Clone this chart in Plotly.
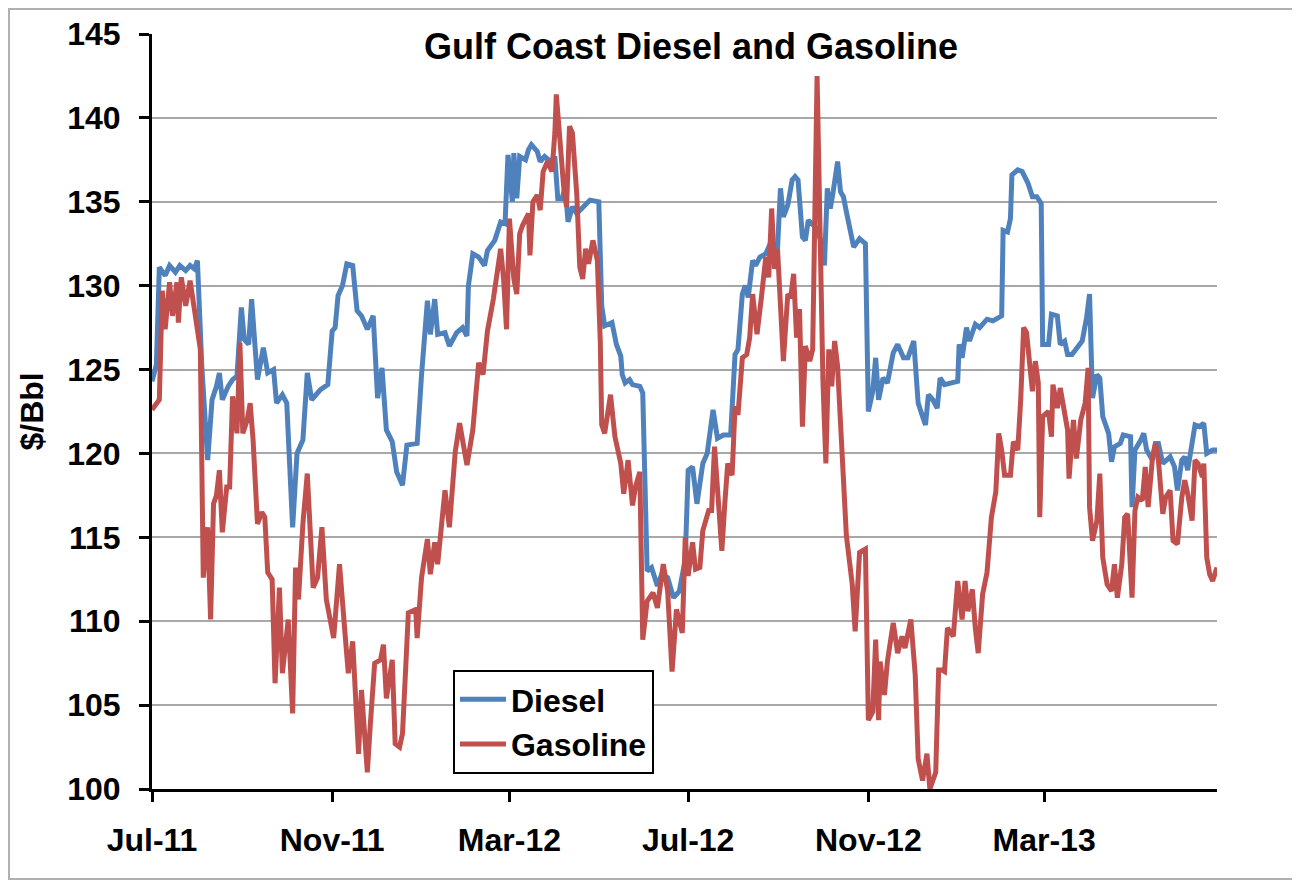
import pandas as pd
import plotly.graph_objects as go

start_date = "2011-07-01"

# Diesel: days since 2011-07-01, $/Bbl
diesel_days = [0, 3, 5, 9, 12, 16, 19, 23, 26, 29, 31, 34, 38, 41, 44, 46, 48, 52, 55, 58,
               61, 63, 66, 68, 72, 76, 79, 83, 85, 89, 92, 96, 99, 103, 106, 109, 115, 120, 123, 125,
               127, 130, 133, 137, 140, 143, 147, 151, 154, 157, 160, 164, 167, 171, 174, 181, 184, 188, 190, 193,
               195, 200, 203, 208, 212, 215, 216, 219, 223, 227, 229, 234, 238, 241, 243, 246, 247, 249, 251, 255,
               257, 259, 263, 265, 268, 272, 275, 277, 280, 282, 284, 287, 290, 294, 299, 305, 307, 309, 314, 317,
               320, 321, 323, 326, 328, 333, 335, 338, 341, 345, 348, 352, 356, 360, 364, 366, 369, 372, 376, 379,
               383, 386, 390, 395, 396, 398, 400, 403, 405, 407, 410, 412, 415, 419, 423, 427, 429, 431, 434, 437,
               439, 441, 444, 446, 448, 451, 454, 457, 459, 461, 463, 465, 468, 470, 472, 474, 477, 479, 483, 487,
               489, 492, 494, 496, 499, 502, 506, 509, 513, 516, 520, 523, 526, 528, 530, 533, 536, 538, 541, 545,
               550, 551, 553, 556, 558, 562, 565, 570, 574, 580, 581, 584, 586, 587, 591, 594, 598, 601, 604, 607,
               608, 612, 614, 618, 620, 623, 625, 628, 632, 635, 638, 640, 642, 645, 647, 649, 653, 655, 657, 661,
               663, 668, 669, 671, 675, 677, 679, 683, 685, 687, 690, 692, 695, 698, 700, 703, 705, 707, 710, 712,
               715, 718, 720, 724, 727]
diesel_values = [124.3, 125.3, 131.1, 130.6, 131.2, 130.8, 131.2, 130.9, 131.2, 131.0, 131.5, 125.2, 119.6, 123.2, 124.0, 124.8, 123.2, 124.0, 124.4, 124.6,
                 128.7, 126.8, 126.5, 129.2, 124.4, 126.3, 124.8, 125.0, 123.0, 123.5, 123.0, 115.6, 120.0, 120.8, 124.8, 123.2, 123.8, 124.1, 127.3, 127.5,
                 129.4, 130.0, 131.3, 131.2, 128.5, 128.2, 127.4, 128.2, 123.3, 125.1, 121.4, 120.7, 118.9, 118.1, 120.5, 120.6, 124.7, 129.1, 127.1, 129.2,
                 127.1, 127.2, 126.4, 127.2, 127.5, 127.0, 130.0, 131.9, 131.7, 131.2, 132.1, 132.7, 133.8, 133.7, 137.8, 135.0, 137.9, 135.2, 137.7, 137.5,
                 138.1, 138.4, 138.0, 137.4, 137.7, 137.4, 137.7, 135.2, 135.2, 135.9, 133.8, 134.7, 134.3, 134.7, 135.1, 135.0, 128.8, 127.6, 127.8, 126.5,
                 125.8, 124.7, 124.2, 124.4, 124.1, 124.0, 123.6, 113.0, 113.2, 112.1, 112.8, 112.6, 111.4, 111.8, 113.7, 119.0, 119.2, 117.0, 119.4, 120.0,
                 122.6, 120.9, 121.1, 121.1, 123.1, 125.9, 126.2, 129.5, 130.0, 129.3, 131.5, 131.2, 131.7, 131.9, 132.7, 132.2, 135.8, 134.1, 134.8, 136.3,
                 136.5, 136.3, 132.9, 132.7, 133.9, 133.6, 133.4, 132.5, 131.2, 135.8, 134.6, 135.6, 137.4, 135.6, 135.3, 134.4, 133.1, 132.3, 132.8, 132.5,
                 122.5, 123.7, 125.7, 123.2, 124.5, 124.2, 126.0, 126.5, 125.7, 125.7, 126.7, 123.0, 122.2, 121.7, 123.5, 123.2, 122.7, 124.5, 124.1, 124.2,
                 124.3, 126.5, 125.7, 127.5, 126.7, 127.7, 127.5, 128.0, 127.9, 128.2, 133.3, 133.2, 134.0, 136.6, 136.9, 136.8, 136.1, 135.3, 135.3, 134.9,
                 126.5, 126.5, 128.3, 128.2, 126.5, 126.7, 125.9, 125.9, 126.3, 126.7, 128.1, 129.5, 123.3, 124.7, 124.5, 122.2, 121.2, 119.5, 120.4, 120.6,
                 121.1, 121.0, 116.8, 120.2, 120.8, 121.2, 120.2, 119.6, 120.6, 120.6, 119.4, 119.6, 119.8, 119.2, 117.8, 119.6, 119.8, 119.0, 120.6, 121.7,
                 121.6, 121.8, 120.0, 120.2, 120.2]

# Gasoline: days since 2011-07-01, $/Bbl
gasoline_days = [0, 4, 5, 7, 9, 12, 14, 17, 18, 20, 23, 26, 28, 31, 33, 35, 38, 40, 42, 44,
                 46, 48, 51, 53, 55, 58, 60, 62, 65, 67, 69, 72, 75, 77, 79, 82, 84, 87, 89, 93,
                 96, 98, 100, 103, 106, 110, 113, 116, 119, 124, 128, 132, 134, 137, 141, 143, 147, 149, 152, 156,
                 158, 160, 164, 166, 169, 171, 175, 180, 181, 184, 188, 190, 193, 195, 200, 203, 207, 210, 215, 219,
                 223, 226, 229, 233, 236, 238, 240, 242, 244, 247, 249, 251, 253, 257, 258, 260, 263, 265, 267, 270,
                 273, 275, 276, 279, 281, 283, 285, 287, 290, 292, 294, 296, 298, 301, 304, 306, 307, 309, 313, 316,
                 320, 322, 325, 328, 330, 333, 335, 338, 342, 345, 349, 352, 355, 358, 362, 364, 366, 369, 371, 374,
                 376, 380, 382, 384, 386, 389, 391, 393, 396, 398, 400, 403, 406, 408, 410, 413, 416, 419, 421, 423,
                 425, 427, 431, 434, 436, 438, 440, 442, 444, 446, 449, 451, 454, 456, 458, 460, 462, 464, 466, 468,
                 471, 474, 478, 480, 483, 487, 489, 492, 494, 496, 497, 500, 502, 506, 509, 512, 514, 518, 521, 523,
                 526, 529, 531, 535, 537, 539, 541, 543, 547, 550, 553, 555, 557, 560, 562, 564, 567, 570, 573, 576,
                 578, 580, 582, 586, 588, 591, 593, 595, 597, 599, 601, 603, 605, 606, 608, 612, 614, 615, 618, 620,
                 622, 625, 626, 629, 631, 634, 637, 639, 640, 642, 645, 647, 649, 652, 655, 657, 659, 662, 664, 666,
                 669, 671, 673, 676, 678, 680, 683, 685, 687, 690, 692, 695, 697, 700, 703, 705, 707, 710, 712, 714,
                 717, 718, 720, 722, 724, 727]
gasoline_values = [122.6, 123.0, 123.2, 129.7, 127.4, 130.2, 128.2, 130.2, 127.8, 130.5, 128.8, 130.3, 129.1, 127.8, 126.2, 112.6, 115.6, 110.1, 117.0, 117.5,
                   119.0, 115.3, 118.0, 118.0, 123.4, 121.2, 126.6, 121.2, 122.0, 123.0, 120.8, 115.8, 116.5, 116.2, 112.9, 112.5, 106.3, 112.0, 106.9, 110.1,
                   104.5, 113.2, 111.3, 115.8, 118.8, 112.0, 112.6, 115.6, 111.3, 109.0, 113.4, 109.0, 106.9, 108.8, 102.1, 105.9, 101.0, 103.8, 107.5, 107.7,
                   108.6, 105.4, 107.7, 102.7, 102.5, 103.3, 110.5, 110.7, 109.0, 112.6, 114.9, 112.8, 114.7, 113.4, 117.8, 115.6, 120.1, 121.8, 119.3, 121.4,
                   125.4, 124.7, 127.3, 129.2, 131.0, 132.2, 130.4, 127.4, 134.0, 130.4, 129.5, 133.1, 133.6, 134.3, 131.8, 135.0, 135.4, 134.5, 136.8, 137.4,
                   136.8, 139.1, 141.4, 138.2, 135.9, 134.7, 139.5, 139.1, 135.4, 131.1, 130.4, 132.2, 131.3, 132.7, 131.5, 126.7, 121.7, 121.2, 123.5, 121.0,
                   119.4, 117.6, 119.6, 116.9, 118.0, 118.9, 108.9, 111.2, 111.7, 110.8, 113.4, 111.8, 107.0, 110.7, 109.3, 115.0, 112.7, 114.7, 113.1, 113.2,
                   115.4, 116.6, 116.6, 120.4, 118.2, 114.2, 117.0, 119.4, 118.7, 122.8, 122.3, 125.7, 125.9, 126.9, 129.5, 127.1, 129.3, 131.7, 130.5, 134.6,
                   131.0, 132.2, 125.5, 129.5, 129.3, 130.7, 126.9, 128.6, 121.6, 126.4, 125.5, 126.2, 142.5, 133.9, 124.3, 119.4, 126.2, 124.0, 126.7, 125.2,
                   120.4, 115.1, 112.2, 109.4, 114.1, 114.3, 104.1, 104.6, 108.9, 104.1, 107.6, 105.6, 107.6, 109.9, 108.1, 109.1, 108.4, 110.1, 106.8, 101.8,
                   100.5, 102.1, 100.0, 101.0, 107.1, 107.1, 107.0, 109.6, 109.1, 112.4, 110.1, 112.4, 110.6, 111.9, 109.6, 108.1, 111.6, 112.9, 116.2, 117.7,
                   121.2, 120.2, 118.7, 118.7, 120.7, 120.2, 123.2, 127.5, 127.2, 125.7, 123.7, 125.5, 124.2, 116.2, 122.2, 122.5, 121.0, 124.1, 122.7, 123.9,
                   123.0, 121.4, 118.5, 122.0, 119.7, 122.0, 123.0, 125.1, 116.8, 114.8, 116.0, 118.8, 113.8, 112.2, 111.8, 113.4, 111.4, 113.4, 116.2, 116.4,
                   111.4, 116.6, 117.4, 117.2, 119.2, 116.8, 119.8, 120.6, 119.6, 116.4, 117.4, 117.8, 114.8, 114.6, 117.4, 118.4, 117.6, 116.0, 119.6, 119.4,
                   118.6, 119.4, 113.8, 112.8, 112.4, 113.2]

series_names = ["Diesel", "Gasoline"]
series_colors = ["#4F81BD", "#C0504D"]
chart_title = "Gulf Coast Diesel and Gasoline"
y_title = "$/Bbl"
x_range_end = "2013-06-27"

base = pd.Timestamp(start_date)
diesel_dates = base + pd.to_timedelta(diesel_days, unit="D")
gasoline_dates = base + pd.to_timedelta(gasoline_days, unit="D")

FONT = "Liberation Sans"

fig = go.Figure()
for name, xs, ys, col in [
    (series_names[0], diesel_dates, diesel_values, series_colors[0]),
    (series_names[1], gasoline_dates, gasoline_values, series_colors[1]),
]:
    fig.add_trace(go.Scatter(x=xs, y=ys, mode="lines", name=name,
                             line=dict(color=col, width=5)))

# page body has an 8px margin, so the figure is 8px smaller and margins shifted
fig.update_layout(
    width=1292, height=876,
    margin=dict(l=144, r=83, t=26, b=95, autoexpand=False),
    paper_bgcolor="white", plot_bgcolor="white",
    font=dict(family=FONT, size=32, color="black", weight="bold"),
    showlegend=True,
    legend=dict(x=0.2826, y=0.1576, xanchor="left", yanchor="top",
                bgcolor="white", bordercolor="black", borderwidth=2,
                font=dict(family=FONT, size=32, color="black", weight="bold"),
                tracegroupgap=0, itemwidth=46),
)

fig.update_xaxes(
    type="date", range=[start_date, x_range_end],
    tick0=start_date, dtick="M4", tickformat="%b-%y",
    showgrid=False, zeroline=False,
    showline=True, linecolor="black", linewidth=3,
    ticks="outside", ticklen=10, tickwidth=2.5, tickcolor="black",
    tickfont=dict(family=FONT, size=32, color="black", weight="bold"),
    ticklabelstandoff=11,
)
fig.update_yaxes(
    range=[100, 145], dtick=5, tick0=100,
    showgrid=True, gridcolor="#a8a8a8", gridwidth=1.5, zeroline=False,
    showline=True, linecolor="black", linewidth=3,
    ticks="outside", ticklen=10, tickwidth=2.5, tickcolor="black",
    tickfont=dict(family=FONT, size=32, color="black", weight="bold"),
    ticklabelstandoff=12,
)

# Title with white background covering the top gridline
fig.add_annotation(text=chart_title, xref="paper", yref="paper", x=0.506, y=0.984,
                   xanchor="center", yanchor="middle", showarrow=False,
                   bgcolor="white", borderpad=4,
                   font=dict(family=FONT, size=36, color="black", weight="bold"))
# Y axis title
fig.add_annotation(text=y_title, xref="paper", yref="paper", x=-0.1127, y=0.5,
                   xanchor="center", yanchor="middle", showarrow=False, textangle=-90,
                   font=dict(family=FONT, size=32, color="black", weight="bold"))
# Outer chart border
fig.add_shape(type="rect", xref="paper", yref="paper",
              x0=-0.1343, x1=1.0742, y0=-0.1192, y1=1.0331,
              line=dict(color="#b0b0b0", width=2), layer="below")

fig.write_html("out.html")
